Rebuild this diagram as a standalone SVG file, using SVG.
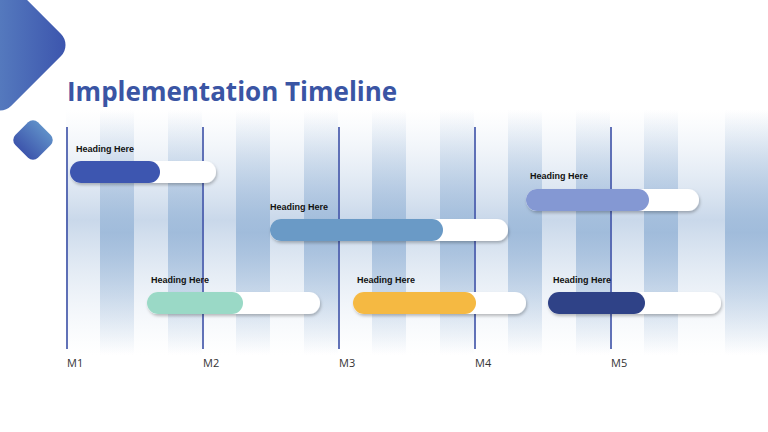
<svg xmlns="http://www.w3.org/2000/svg" width="768" height="432" viewBox="0 0 768 432">
<defs>
<linearGradient id="bg" x1="0" y1="0" x2="0" y2="1"><stop offset="0" stop-color="#dfe8f3" stop-opacity="0"/><stop offset="0.45" stop-color="#c9d8ea"/><stop offset="1" stop-color="#e4ecf5" stop-opacity="0"/></linearGradient>
<linearGradient id="st" x1="0" y1="0" x2="0" y2="1"><stop offset="0" stop-color="#9bb8d9" stop-opacity="0"/><stop offset="0.5" stop-color="#9bb8d9" stop-opacity="0.9"/><stop offset="1" stop-color="#9bb8d9" stop-opacity="0"/></linearGradient>
<linearGradient id="dg" x1="0" y1="1" x2="1" y2="0"><stop offset="0" stop-color="#6fa0cf"/><stop offset="1" stop-color="#3a52ac"/></linearGradient>
<linearGradient id="dg2" x1="0" y1="0" x2="0" y2="1"><stop offset="0" stop-color="#5f8fc8"/><stop offset="1" stop-color="#3d55ac"/></linearGradient>
<filter id="sh" x="-10%" y="-50%" width="120%" height="200%"><feDropShadow dx="1" dy="2" stdDeviation="1.5" flood-color="#000" flood-opacity="0.25"/></filter>
</defs>
<style>
.h{font-family:"Liberation Sans",Arial,sans-serif;font-weight:bold;font-size:9px;fill:#111}
.m{font-family:"Open Sans","Liberation Sans",sans-serif;font-size:11px;fill:#333}
.v{stroke:#3a4fa6;stroke-width:1.6}
.w{fill:#fff;filter:url(#sh)}
</style>
<rect width="768" height="432" fill="#fff"/>
<rect x="66" y="110" width="702" height="245" fill="url(#bg)"/>
<g fill="url(#st)">
<rect x="100" y="110" width="34" height="245"/><rect x="168" y="110" width="34" height="245"/><rect x="236" y="110" width="34" height="245"/><rect x="304" y="110" width="34" height="245"/><rect x="372" y="110" width="34" height="245"/><rect x="440" y="110" width="34" height="245"/><rect x="508" y="110" width="34" height="245"/><rect x="576" y="110" width="34" height="245"/><rect x="644" y="110" width="34" height="245"/><rect x="725" y="110" width="43" height="245"/>
</g>
<g id="deco">
<rect x="-51" y="-6" width="102" height="102" rx="16" transform="rotate(45 0 45)" fill="url(#dg)"/>
<rect x="17" y="124" width="32" height="32" rx="7" transform="rotate(45 33 140)" fill="url(#dg2)"/>
</g>
<text x="67" y="101" font-family="'Open Sans','Liberation Sans',sans-serif" font-weight="bold" font-size="26" fill="#3a55a4">Implementation Timeline</text>
<g id="connectors">
<line class="v" x1="67" y1="127" x2="67" y2="349"/><line class="v" x1="203" y1="127" x2="203" y2="349"/><line class="v" x1="339" y1="127" x2="339" y2="349"/><line class="v" x1="475" y1="127" x2="475" y2="349"/><line class="v" x1="611" y1="127" x2="611" y2="349"/>
</g>
<g id="bar1"><rect class="w" x="70" y="161" width="146" height="22" rx="11"/><rect x="70" y="161" width="90" height="22" rx="11" fill="#3d56b0"/><text class="h" x="76" y="152">Heading Here</text></g>
<g id="bar2"><rect class="w" x="270" y="219" width="238" height="22" rx="11"/><rect x="270" y="219" width="173" height="22" rx="11" fill="#6a9ac6"/><text class="h" x="270" y="210">Heading Here</text></g>
<g id="bar3"><rect class="w" x="526" y="189" width="173" height="22" rx="11"/><rect x="526" y="189" width="123" height="22" rx="11" fill="#8498d3"/><text class="h" x="530" y="179">Heading Here</text></g>
<g id="bar4"><rect class="w" x="147" y="292" width="173" height="22" rx="11"/><rect x="147" y="292" width="96" height="22" rx="11" fill="#9ad9c6"/><text class="h" x="151" y="283">Heading Here</text></g>
<g id="bar5"><rect class="w" x="353" y="292" width="173" height="22" rx="11"/><rect x="353" y="292" width="123" height="22" rx="11" fill="#f5b942"/><text class="h" x="357" y="283">Heading Here</text></g>
<g id="bar6"><rect class="w" x="548" y="292" width="173" height="22" rx="11"/><rect x="548" y="292" width="97" height="22" rx="11" fill="#2f4287"/><text class="h" x="553" y="283">Heading Here</text></g>
<g id="labels"><text class="m" x="67" y="367">M1</text><text class="m" x="203" y="367">M2</text><text class="m" x="339" y="367">M3</text><text class="m" x="475" y="367">M4</text><text class="m" x="611" y="367">M5</text></g>
</svg>
